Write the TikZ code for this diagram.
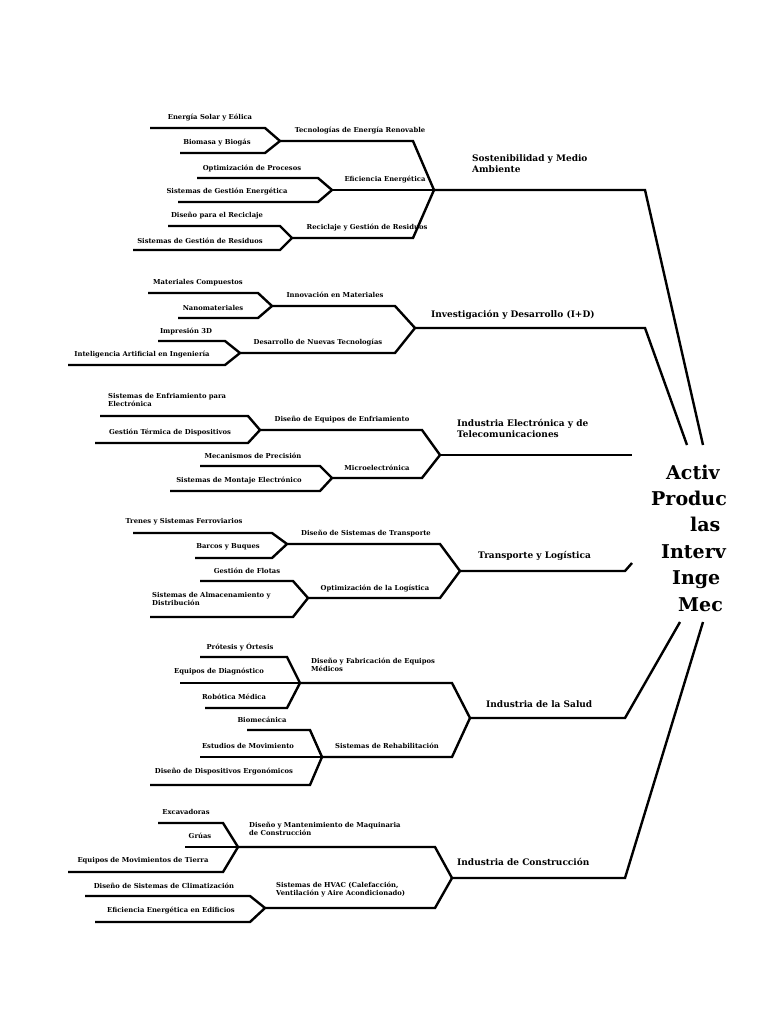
\documentclass[tikz,border=0pt]{standalone}
\usepackage{fontspec}
\setmainfont{DejaVu Serif}
\begin{document}
\begin{tikzpicture}[x=1pt,y=-1pt,
  br/.style={line width=2.4pt,line join=miter},
  lf/.style={font=\bfseries\fontsize{6.8}{8}\selectfont,inner sep=0pt},
  lfl/.style={lf,align=left,anchor=north west},
  l1/.style={font=\bfseries\fontsize{9}{11}\selectfont,inner sep=0pt,align=left,anchor=west},
  rt/.style={font=\bfseries\fontsize{19}{22}\selectfont,inner sep=0pt,anchor=base west}]
\useasboundingbox (0,0) rectangle (768,1024);
% root (visible part)
\node[rt] (r1) at (666,479) {Activ};
\node[rt] (r2) at (651,505) {Produc};
\node[rt] (r3) at (690,531) {las};
\node[rt] (r4) at (661,558) {Interv};
\node[rt] (r5) at (672,584) {Inge};
\node[rt] (r6) at (678,611) {Mec};
\coordinate (rA) at (703,445); \coordinate (rB) at (687,445);
\coordinate (rC) at (632,563); \coordinate (rD) at (680,622); \coordinate (rE) at (703,622);
% ===== Sostenibilidad
\coordinate (S) at (434,190);
\coordinate (S1) at (280,141); \coordinate (S2) at (332,190); \coordinate (S3) at (292,238);
\draw[br] (rA) -- (645,190) -- (S);
\draw[br] (S) -- (413,141) -- (S1); \draw[br] (S) -- (S2); \draw[br] (S) -- (413,238) -- (S3);
\draw[br] (S1) -- (265,128) -- (150,128); \draw[br] (S1) -- (265,153) -- (180,153);
\draw[br] (S2) -- (318,178) -- (197,178); \draw[br] (S2) -- (318,202) -- (178,202);
\draw[br] (S3) -- (280,226) -- (168,226); \draw[br] (S3) -- (280,250) -- (133,250);
\node[l1,anchor=north west] (nS) at (472,154) {Sostenibilidad y Medio\\Ambiente};
\node[lf] (nS1) at (360,131) {Tecnologías de Energía Renovable};
\node[lf] (nS2) at (385,180) {Eficiencia Energética};
\node[lf] (nS3) at (367,228) {Reciclaje y Gestión de Residuos};
\node[lf] (a1) at (210,118) {Energía Solar y Eólica};
\node[lf] (a2) at (217,143) {Biomasa y Biogás};
\node[lf] (a3) at (252,168) {Optimización de Procesos};
\node[lf] (a4) at (227,192) {Sistemas de Gestión Energética};
\node[lf] (a5) at (217,216) {Diseño para el Reciclaje};
\node[lf] (a6) at (200,241) {Sistemas de Gestión de Residuos};
% ===== I+D
\coordinate (D) at (415,328);
\coordinate (D1) at (272,306); \coordinate (D2) at (240,353);
\draw[br] (rB) -- (645,328) -- (D);
\draw[br] (D) -- (395,306) -- (D1); \draw[br] (D) -- (395,353) -- (D2);
\draw[br] (D1) -- (258,293) -- (148,293); \draw[br] (D1) -- (258,318) -- (178,318);
\draw[br] (D2) -- (225,341) -- (158,341); \draw[br] (D2) -- (225,365) -- (68,365);
\node[l1] (nD) at (431,315) {Investigación y Desarrollo (I+D)};
\node[lf] (nD1) at (335,295) {Innovación en Materiales};
\node[lf] (nD2) at (318,343) {Desarrollo de Nuevas Tecnologías};
\node[lf] (b1) at (198,283) {Materiales Compuestos};
\node[lf] (b2) at (213,308) {Nanomateriales};
\node[lf] (b3) at (186,331) {Impresión 3D};
\node[lf] (b4) at (142,355) {Inteligencia Artificial en Ingeniería};
% ===== Electronica
\coordinate (E) at (440,455);
\coordinate (E1) at (260,430); \coordinate (E2) at (332,478);
\draw[br] (E) -- (632,455);
\draw[br] (E) -- (422,430) -- (E1); \draw[br] (E) -- (422,478) -- (E2);
\draw[br] (E1) -- (248,416) -- (100,416); \draw[br] (E1) -- (248,443) -- (95,443);
\draw[br] (E2) -- (320,466) -- (200,466); \draw[br] (E2) -- (320,491) -- (170,491);
\node[l1,anchor=north west] (nE) at (457,419) {Industria Electrónica y de\\Telecomunicaciones};
\node[lf] (nE1) at (342,420) {Diseño de Equipos de Enfriamiento};
\node[lf] (nE2) at (377,468) {Microelectrónica};
\node[lfl] (c1) at (108,393) {Sistemas de Enfriamiento para\\Electrónica};
\node[lf] (c2) at (170,432) {Gestión Térmica de Dispositivos};
\node[lf] (c3) at (253,456) {Mecanismos de Precisión};
\node[lf] (c4) at (239,481) {Sistemas de Montaje Electrónico};
% ===== Transporte
\coordinate (T) at (460,571);
\coordinate (T1) at (287,544); \coordinate (T2) at (308,598);
\draw[br] (T) -- (625,571) -- (rC);
\draw[br] (T) -- (440,544) -- (T1); \draw[br] (T) -- (440,598) -- (T2);
\draw[br] (T1) -- (272,533) -- (133,533); \draw[br] (T1) -- (272,558) -- (195,558);
\draw[br] (T2) -- (293,581) -- (200,581); \draw[br] (T2) -- (293,617) -- (150,617);
\node[l1] (nT) at (478,556) {Transporte y Logística};
\node[lf] (nT1) at (366,534) {Diseño de Sistemas de Transporte};
\node[lf] (nT2) at (375,589) {Optimización de la Logística};
\node[lf] (d1) at (184,522) {Trenes y Sistemas Ferroviarios};
\node[lf] (d2) at (228,547) {Barcos y Buques};
\node[lf] (d3) at (247,571) {Gestión de Flotas};
\node[lfl] (d4) at (152,592) {Sistemas de Almacenamiento y\\Distribución};
% ===== Salud
\coordinate (H) at (470,718);
\coordinate (H1) at (300,683); \coordinate (H2) at (322,757);
\draw[br] (H) -- (625,718) -- (rD);
\draw[br] (H) -- (452,683) -- (H1); \draw[br] (H) -- (452,757) -- (H2);
\draw[br] (H1) -- (287,657) -- (200,657); \draw[br] (H1) -- (180,683); \draw[br] (H1) -- (287,708) -- (205,708);
\draw[br] (H2) -- (310,730) -- (247,730); \draw[br] (H2) -- (200,757); \draw[br] (H2) -- (310,785) -- (150,785);
\node[l1] (nH) at (486,704) {Industria de la Salud};
\node[lfl] (nH1) at (311,658) {Diseño y Fabricación de Equipos\\Médicos};
\node[lf] (nH2) at (387,746) {Sistemas de Rehabilitación};
\node[lf] (e1) at (240,647) {Prótesis y Órtesis};
\node[lf] (e2) at (219,672) {Equipos de Diagnóstico};
\node[lf] (e3) at (234,697) {Robótica Médica};
\node[lf] (e4) at (262,720) {Biomecánica};
\node[lf] (e5) at (248,746) {Estudios de Movimiento};
\node[lf] (e6) at (224,772) {Diseño de Dispositivos Ergonómicos};
% ===== Construccion
\coordinate (C) at (452,878);
\coordinate (C1) at (238,847); \coordinate (C2) at (265,908);
\draw[br] (C) -- (625,878) -- (rE);
\draw[br] (C) -- (435,847) -- (C1); \draw[br] (C) -- (435,908) -- (C2);
\draw[br] (C1) -- (223,823) -- (158,823); \draw[br] (C1) -- (185,847); \draw[br] (C1) -- (223,872) -- (68,872);
\draw[br] (C2) -- (250,896) -- (85,896); \draw[br] (C2) -- (250,922) -- (95,922);
\node[l1] (nC) at (457,862) {Industria de Construcción};
\node[lfl] (nC1) at (249,822) {Diseño y Mantenimiento de Maquinaria\\de Construcción};
\node[lfl] (nC2) at (276,882) {Sistemas de HVAC (Calefacción,\\Ventilación y Aire Acondicionado)};
\node[lf] (f1) at (186,812) {Excavadoras};
\node[lf] (f2) at (200,836) {Grúas};
\node[lf] (f3) at (143,861) {Equipos de Movimientos de Tierra};
\node[lf] (f4) at (164,886) {Diseño de Sistemas de Climatización};
\node[lf] (f5) at (171,911) {Eficiencia Energética en Edificios};
\end{tikzpicture}
\end{document}
